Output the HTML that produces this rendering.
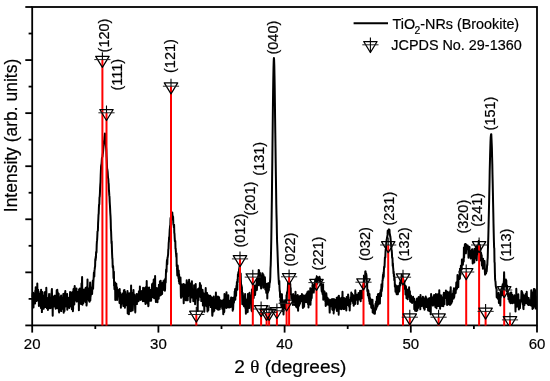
<!DOCTYPE html>
<html><head><meta charset="utf-8"><style>
html,body{margin:0;padding:0;background:#fff;width:550px;height:381px;overflow:hidden}
svg{display:block;font-family:"Liberation Sans",Arial,sans-serif;fill:#000}
text{stroke:#000;stroke-width:0.2px}
</style></head><body>
<svg width="550" height="381" viewBox="0 0 550 381"><polyline points="32.50,297.18 32.70,293.33 32.90,296.08 33.10,292.73 33.30,299.34 33.50,307.38 33.70,295.90 33.90,295.11 34.10,302.09 34.30,301.27 34.50,299.71 34.70,293.23 34.90,298.90 35.10,303.45 35.30,290.68 35.50,296.25 35.70,287.22 35.90,291.07 36.10,287.62 36.30,297.71 36.50,291.25 36.70,300.91 36.90,300.21 37.10,298.07 37.30,283.48 37.50,295.89 37.70,298.98 37.90,300.01 38.10,289.72 38.30,296.33 38.50,293.21 38.70,294.29 38.90,306.02 39.10,294.33 39.30,299.20 39.50,304.96 39.70,295.77 39.90,298.74 40.10,300.15 40.30,299.87 40.50,291.81 40.70,299.98 40.90,308.03 41.10,289.84 41.30,304.93 41.50,300.31 41.70,295.56 41.90,312.12 42.10,304.38 42.30,292.11 42.50,300.10 42.70,303.26 42.90,298.48 43.10,303.95 43.30,299.27 43.50,303.88 43.70,308.73 43.90,295.50 44.10,301.02 44.30,296.86 44.50,300.57 44.70,292.36 44.90,296.18 45.10,298.61 45.30,305.52 45.50,307.11 45.70,291.71 45.90,295.07 46.10,304.15 46.30,287.68 46.50,297.30 46.70,299.65 46.90,308.18 47.10,304.68 47.30,298.36 47.50,298.16 47.70,298.95 47.90,310.10 48.10,297.94 48.30,298.77 48.50,302.93 48.70,300.02 48.90,299.60 49.10,293.91 49.30,300.86 49.50,298.21 49.70,308.33 49.90,305.17 50.10,300.99 50.30,305.37 50.50,299.12 50.70,307.88 50.90,301.32 51.10,305.05 51.30,293.38 51.50,303.67 51.70,291.00 51.90,288.88 52.10,299.76 52.30,296.09 52.50,302.79 52.70,315.85 52.90,296.67 53.10,298.02 53.30,303.25 53.50,305.10 53.70,300.97 53.90,300.84 54.10,306.57 54.30,305.48 54.50,295.82 54.70,301.84 54.90,302.60 55.10,295.85 55.30,304.11 55.50,297.18 55.70,308.66 55.90,303.85 56.10,303.25 56.30,299.05 56.50,302.06 56.70,290.37 56.90,295.84 57.10,305.22 57.30,289.71 57.50,308.34 57.70,292.21 57.90,307.88 58.10,297.93 58.30,308.12 58.50,304.13 58.70,293.77 58.90,311.20 59.10,312.46 59.30,303.10 59.50,301.86 59.70,302.62 59.90,297.58 60.10,310.51 60.30,300.21 60.50,303.22 60.70,298.53 60.90,299.51 61.10,295.38 61.30,311.12 61.50,302.26 61.70,309.18 61.90,303.18 62.10,298.71 62.30,300.94 62.50,299.42 62.70,302.90 62.90,300.45 63.10,300.85 63.30,294.07 63.50,297.57 63.70,312.83 63.90,298.29 64.10,295.84 64.30,304.44 64.50,311.04 64.70,293.17 64.90,300.85 65.10,298.16 65.30,291.07 65.50,306.53 65.70,301.75 65.90,302.28 66.10,297.09 66.30,304.53 66.50,298.29 66.70,300.69 66.90,294.63 67.10,293.90 67.30,309.68 67.50,298.17 67.70,303.07 67.90,300.99 68.10,298.39 68.30,297.91 68.50,304.91 68.70,299.06 68.90,299.93 69.10,300.95 69.30,308.04 69.50,304.90 69.70,302.99 69.90,297.05 70.10,291.92 70.30,306.32 70.50,306.36 70.70,299.44 70.90,303.61 71.10,305.04 71.30,305.28 71.50,305.78 71.70,297.20 71.90,309.34 72.10,292.19 72.30,305.17 72.50,302.84 72.70,305.12 72.90,311.28 73.10,308.78 73.30,292.46 73.50,289.05 73.70,304.47 73.90,293.09 74.10,299.22 74.30,304.42 74.50,289.03 74.70,286.10 74.90,300.66 75.10,299.27 75.30,297.42 75.50,299.11 75.70,293.51 75.90,289.43 76.10,297.66 76.30,292.64 76.50,288.45 76.70,301.61 76.90,298.06 77.10,300.88 77.30,292.23 77.50,294.21 77.70,292.05 77.90,292.68 78.10,299.26 78.30,293.19 78.50,300.11 78.70,299.95 78.90,310.22 79.10,289.20 79.30,303.11 79.50,297.06 79.70,297.45 79.90,288.60 80.10,294.59 80.30,301.88 80.50,296.77 80.70,297.70 80.90,295.36 81.10,304.11 81.30,296.87 81.50,283.51 81.70,292.64 81.90,284.80 82.10,276.93 82.30,293.42 82.50,304.68 82.70,296.78 82.90,289.31 83.10,290.64 83.30,303.12 83.50,297.15 83.70,296.41 83.90,295.71 84.10,296.19 84.30,300.73 84.50,299.12 84.70,297.00 84.90,289.34 85.10,298.63 85.30,291.42 85.50,302.05 85.70,287.86 85.90,294.61 86.10,295.34 86.30,287.45 86.50,305.52 86.70,303.89 86.90,292.43 87.10,299.65 87.30,297.25 87.50,279.61 87.70,296.30 87.90,294.37 88.10,295.09 88.30,288.26 88.50,292.78 88.70,293.14 88.90,300.73 89.10,295.66 89.30,293.52 89.50,301.81 89.70,289.98 89.90,290.62 90.10,282.59 90.30,300.46 90.50,296.77 90.70,296.03 90.90,294.22 91.10,290.81 91.30,290.77 91.50,287.84 91.70,287.44 91.90,287.96 92.10,293.98 92.30,288.62 92.50,284.92 92.70,281.68 92.90,280.45 93.10,288.69 93.30,282.87 93.50,279.80 93.70,276.83 93.90,272.57 94.10,274.89 94.30,276.53 94.50,270.40 94.70,269.13 94.90,267.22 95.10,266.20 95.30,259.00 95.50,260.77 95.70,256.72 95.90,258.96 96.10,252.06 96.30,252.79 96.50,252.23 96.70,245.01 96.90,241.44 97.10,240.14 97.30,236.60 97.50,231.42 97.70,231.03 97.90,230.58 98.10,222.96 98.30,219.64 98.50,214.75 98.70,213.56 98.90,207.53 99.10,204.28 99.30,204.39 99.50,197.58 99.70,196.85 99.90,193.73 100.10,188.14 100.30,184.52 100.50,182.12 100.70,175.18 100.90,170.66 101.10,166.14 101.30,164.78 101.50,164.13 101.70,161.87 101.90,158.51 102.10,157.56 102.30,156.86 102.50,156.47 102.70,154.45 102.90,153.22 103.10,151.44 103.30,148.79 103.50,146.91 103.70,144.92 103.90,142.36 104.10,140.75 104.30,140.12 104.50,137.22 104.70,135.59 104.90,133.45 105.10,135.82 105.30,134.68 105.50,137.16 105.70,142.09 105.90,145.19 106.10,147.93 106.30,150.07 106.50,155.32 106.70,158.67 106.90,163.61 107.10,168.68 107.30,169.18 107.50,170.59 107.70,172.48 107.90,176.08 108.10,178.11 108.30,179.05 108.50,182.95 108.70,183.72 108.90,189.35 109.10,192.19 109.30,195.41 109.50,196.64 109.70,201.78 109.90,204.77 110.10,208.55 110.30,212.98 110.50,215.83 110.70,220.08 110.90,228.76 111.10,231.54 111.30,236.93 111.50,243.10 111.70,241.40 111.90,247.60 112.10,253.86 112.30,258.21 112.50,259.67 112.70,266.96 112.90,267.67 113.10,266.00 113.30,269.35 113.50,277.58 113.70,278.62 113.90,271.83 114.10,285.91 114.30,284.71 114.50,289.33 114.70,283.49 114.90,285.04 115.10,282.39 115.30,300.05 115.50,288.52 115.70,297.76 115.90,287.78 116.10,292.43 116.30,283.84 116.50,290.88 116.70,298.46 116.90,287.28 117.10,299.98 117.30,296.51 117.50,289.41 117.70,292.67 117.90,293.20 118.10,295.76 118.30,293.34 118.50,291.97 118.70,295.17 118.90,291.29 119.10,289.99 119.30,297.32 119.50,302.90 119.70,289.12 119.90,298.19 120.10,294.55 120.30,292.78 120.50,303.67 120.70,295.75 120.90,307.78 121.10,294.46 121.30,301.49 121.50,297.98 121.70,294.96 121.90,303.06 122.10,298.74 122.30,303.38 122.50,299.60 122.70,293.48 122.90,299.47 123.10,300.49 123.30,306.03 123.50,294.93 123.70,300.23 123.90,290.19 124.10,304.57 124.30,294.22 124.50,289.93 124.70,300.55 124.90,307.67 125.10,291.87 125.30,294.59 125.50,296.75 125.70,294.50 125.90,303.71 126.10,296.60 126.30,297.20 126.50,305.19 126.70,297.15 126.90,304.44 127.10,296.00 127.30,294.61 127.50,290.90 127.70,313.44 127.90,300.26 128.10,303.77 128.30,302.17 128.50,303.41 128.70,302.82 128.90,314.21 129.10,296.34 129.30,293.25 129.50,296.65 129.70,294.76 129.90,307.52 130.10,307.97 130.30,297.03 130.50,294.34 130.70,300.58 130.90,311.17 131.10,285.39 131.30,305.74 131.50,295.88 131.70,308.73 131.90,295.72 132.10,300.49 132.30,292.95 132.50,296.11 132.70,310.48 132.90,306.95 133.10,299.40 133.30,296.45 133.50,290.12 133.70,299.22 133.90,301.36 134.10,300.96 134.30,300.82 134.50,294.45 134.70,300.83 134.90,300.93 135.10,308.98 135.30,312.43 135.50,300.09 135.70,296.16 135.90,300.37 136.10,296.97 136.30,296.07 136.50,300.18 136.70,294.07 136.90,304.09 137.10,299.66 137.30,301.75 137.50,299.02 137.70,295.61 137.90,294.17 138.10,298.45 138.30,296.46 138.50,301.17 138.70,299.63 138.90,291.24 139.10,299.91 139.30,291.19 139.50,295.56 139.70,297.45 139.90,286.47 140.10,299.65 140.30,299.93 140.50,297.96 140.70,296.25 140.90,296.47 141.10,292.70 141.30,296.95 141.50,295.13 141.70,298.99 141.90,290.98 142.10,299.70 142.30,299.06 142.50,297.23 142.70,295.33 142.90,301.30 143.10,287.67 143.30,300.57 143.50,299.16 143.70,299.32 143.90,299.84 144.10,293.42 144.30,295.75 144.50,301.14 144.70,299.79 144.90,298.33 145.10,287.75 145.30,300.19 145.50,303.95 145.70,302.89 145.90,298.08 146.10,287.07 146.30,302.22 146.50,295.50 146.70,280.89 146.90,298.52 147.10,287.06 147.30,288.16 147.50,292.10 147.70,303.61 147.90,293.54 148.10,297.35 148.30,306.23 148.50,305.20 148.70,294.81 148.90,293.88 149.10,287.61 149.30,290.96 149.50,297.65 149.70,297.38 149.90,295.56 150.10,300.82 150.30,290.04 150.50,294.28 150.70,298.94 150.90,297.96 151.10,300.80 151.30,296.63 151.50,292.28 151.70,296.23 151.90,287.92 152.10,283.99 152.30,297.25 152.50,293.33 152.70,295.41 152.90,283.27 153.10,291.17 153.30,289.66 153.50,287.98 153.70,279.56 153.90,290.94 154.10,298.20 154.30,295.01 154.50,289.05 154.70,292.43 154.90,296.91 155.10,275.90 155.30,291.45 155.50,295.29 155.70,296.00 155.90,301.90 156.10,298.43 156.30,293.45 156.50,293.27 156.70,295.99 156.90,288.07 157.10,290.88 157.30,296.29 157.50,302.30 157.70,289.80 157.90,290.31 158.10,291.65 158.30,298.23 158.50,290.19 158.70,298.79 158.90,284.65 159.10,289.07 159.30,288.93 159.50,294.48 159.70,295.85 159.90,281.20 160.10,284.49 160.30,291.48 160.50,285.74 160.70,280.78 160.90,294.99 161.10,291.78 161.30,291.60 161.50,286.07 161.70,294.13 161.90,286.97 162.10,293.97 162.30,282.89 162.50,282.95 162.70,288.26 162.90,283.17 163.10,289.95 163.30,287.36 163.50,280.90 163.70,285.41 163.90,282.75 164.10,288.27 164.30,280.16 164.50,280.36 164.70,287.10 164.90,290.66 165.10,288.40 165.30,278.87 165.50,278.34 165.70,282.36 165.90,274.32 166.10,269.62 166.30,272.19 166.50,271.69 166.70,265.42 166.90,260.89 167.10,259.74 167.30,264.33 167.50,257.76 167.70,257.31 167.90,255.90 168.10,254.48 168.30,249.37 168.50,248.86 168.70,242.77 168.90,241.36 169.10,237.14 169.30,239.20 169.50,233.94 169.70,229.80 169.90,228.01 170.10,225.77 170.30,225.16 170.50,218.62 170.70,217.66 170.90,217.06 171.10,220.65 171.30,216.54 171.50,213.69 171.70,214.43 171.90,216.40 172.10,212.47 172.30,212.59 172.50,216.01 172.70,215.78 172.90,217.41 173.10,216.89 173.30,223.15 173.50,224.87 173.70,225.00 173.90,227.66 174.10,224.78 174.30,232.77 174.50,233.74 174.70,237.83 174.90,241.18 175.10,241.59 175.30,241.03 175.50,248.74 175.70,248.54 175.90,252.16 176.10,253.86 176.30,256.99 176.50,253.37 176.70,266.32 176.90,265.48 177.10,270.40 177.30,275.44 177.50,270.48 177.70,265.45 177.90,270.28 178.10,270.43 178.30,274.52 178.50,278.15 178.70,270.47 178.90,281.58 179.10,274.34 179.30,283.37 179.50,282.34 179.70,282.13 179.90,283.97 180.10,282.31 180.30,282.49 180.50,277.56 180.70,286.39 180.90,296.53 181.10,297.74 181.30,294.72 181.50,291.82 181.70,284.73 181.90,296.44 182.10,288.57 182.30,288.73 182.50,287.71 182.70,290.01 182.90,287.26 183.10,289.38 183.30,283.90 183.50,288.03 183.70,303.18 183.90,290.00 184.10,289.15 184.30,293.66 184.50,294.78 184.70,284.42 184.90,289.72 185.10,296.31 185.30,292.65 185.50,291.88 185.70,300.28 185.90,287.37 186.10,291.88 186.30,288.42 186.50,300.26 186.70,280.15 186.90,287.72 187.10,288.61 187.30,295.69 187.50,295.41 187.70,300.14 187.90,282.63 188.10,296.44 188.30,290.31 188.50,288.14 188.70,295.36 188.90,286.72 189.10,279.86 189.30,290.08 189.50,283.38 189.70,288.49 189.90,294.64 190.10,294.34 190.30,302.07 190.50,291.44 190.70,283.51 190.90,288.25 191.10,287.34 191.30,285.62 191.50,295.65 191.70,289.22 191.90,281.25 192.10,297.47 192.30,292.66 192.50,295.56 192.70,294.12 192.90,297.38 193.10,293.85 193.30,301.19 193.50,296.34 193.70,296.22 193.90,296.40 194.10,285.13 194.30,293.05 194.50,292.54 194.70,295.45 194.90,285.98 195.10,304.27 195.30,295.02 195.50,287.07 195.70,284.10 195.90,292.87 196.10,294.11 196.30,290.34 196.50,295.35 196.70,290.93 196.90,298.29 197.10,290.55 197.30,294.81 197.50,301.10 197.70,310.91 197.90,289.07 198.10,292.45 198.30,290.22 198.50,300.23 198.70,288.45 198.90,292.58 199.10,295.43 199.30,289.67 199.50,289.86 199.70,292.88 199.90,282.96 200.10,287.05 200.30,293.45 200.50,296.95 200.70,294.97 200.90,285.37 201.10,293.41 201.30,301.12 201.50,299.70 201.70,295.93 201.90,291.12 202.10,300.32 202.30,293.11 202.50,289.64 202.70,291.91 202.90,305.39 203.10,298.13 203.30,303.76 203.50,294.09 203.70,302.54 203.90,293.50 204.10,296.18 204.30,311.77 204.50,301.72 204.70,294.35 204.90,296.85 205.10,299.36 205.30,304.66 205.50,294.97 205.70,287.92 205.90,296.55 206.10,298.42 206.30,299.14 206.50,306.23 206.70,300.67 206.90,303.67 207.10,292.94 207.30,304.31 207.50,311.43 207.70,304.10 207.90,301.34 208.10,300.95 208.30,310.29 208.50,295.24 208.70,299.98 208.90,303.34 209.10,305.09 209.30,298.70 209.50,303.00 209.70,299.94 209.90,302.31 210.10,301.10 210.30,295.74 210.50,302.05 210.70,307.12 210.90,297.26 211.10,301.38 211.30,306.46 211.50,297.26 211.70,304.19 211.90,297.69 212.10,309.55 212.30,315.83 212.50,314.25 212.70,302.31 212.90,307.40 213.10,304.12 213.30,304.01 213.50,311.62 213.70,296.55 213.90,309.00 214.10,303.22 214.30,310.82 214.50,304.45 214.70,300.00 214.90,304.91 215.10,307.28 215.30,303.67 215.50,305.99 215.70,300.82 215.90,292.60 216.10,308.06 216.30,307.03 216.50,304.23 216.70,303.83 216.90,308.70 217.10,301.19 217.30,299.95 217.50,302.54 217.70,309.40 217.90,296.60 218.10,309.38 218.30,300.33 218.50,298.06 218.70,309.66 218.90,303.00 219.10,297.13 219.30,301.73 219.50,307.99 219.70,309.24 219.90,301.41 220.10,305.43 220.30,306.91 220.50,300.36 220.70,305.17 220.90,303.31 221.10,300.88 221.30,301.09 221.50,303.78 221.70,303.60 221.90,300.73 222.10,301.40 222.30,308.80 222.50,304.47 222.70,307.69 222.90,309.21 223.10,306.26 223.30,314.35 223.50,299.46 223.70,307.30 223.90,301.89 224.10,312.33 224.30,311.58 224.50,294.01 224.70,298.74 224.90,306.58 225.10,307.16 225.30,306.86 225.50,302.94 225.70,305.42 225.90,306.33 226.10,302.78 226.30,308.03 226.50,292.23 226.70,306.06 226.90,298.02 227.10,307.52 227.30,301.79 227.50,298.58 227.70,304.58 227.90,298.38 228.10,298.33 228.30,295.16 228.50,302.47 228.70,304.92 228.90,307.38 229.10,301.77 229.30,307.39 229.50,302.43 229.70,301.84 229.90,304.96 230.10,307.21 230.30,300.50 230.50,300.90 230.70,301.24 230.90,302.33 231.10,297.61 231.30,306.68 231.50,299.85 231.70,303.86 231.90,297.70 232.10,303.22 232.30,303.29 232.50,299.39 232.70,310.76 232.90,302.92 233.10,309.38 233.30,305.43 233.50,297.76 233.70,298.92 233.90,302.54 234.10,300.62 234.30,300.34 234.50,298.55 234.70,291.40 234.90,298.14 235.10,288.94 235.30,299.72 235.50,294.36 235.70,293.67 235.90,294.80 236.10,295.70 236.30,288.00 236.50,285.66 236.70,286.77 236.90,281.89 237.10,283.77 237.30,289.78 237.50,279.58 237.70,282.31 237.90,274.51 238.10,276.80 238.30,273.15 238.50,271.94 238.70,271.85 238.90,273.39 239.10,269.05 239.30,268.67 239.50,266.48 239.70,270.89 239.90,270.25 240.10,274.52 240.30,274.37 240.50,281.18 240.70,273.60 240.90,280.47 241.10,286.25 241.30,284.82 241.50,285.50 241.70,289.16 241.90,287.04 242.10,293.98 242.30,304.27 242.50,300.79 242.70,292.96 242.90,294.77 243.10,297.56 243.30,304.41 243.50,297.22 243.70,298.37 243.90,305.90 244.10,306.32 244.30,301.15 244.50,298.12 244.70,296.46 244.90,300.65 245.10,293.88 245.30,307.87 245.50,301.76 245.70,307.14 245.90,313.79 246.10,310.80 246.30,300.25 246.50,309.82 246.70,311.36 246.90,302.73 247.10,301.74 247.30,305.38 247.50,298.20 247.70,312.13 247.90,293.93 248.10,299.64 248.30,303.19 248.50,303.07 248.70,304.55 248.90,304.70 249.10,302.14 249.30,307.92 249.50,292.71 249.70,302.00 249.90,298.40 250.10,301.80 250.30,301.80 250.50,295.95 250.70,296.71 250.90,303.40 251.10,300.82 251.30,295.15 251.50,309.43 251.70,310.80 251.90,289.61 252.10,299.13 252.30,311.51 252.50,301.22 252.70,297.52 252.90,294.51 253.10,292.05 253.30,293.55 253.50,291.08 253.70,298.07 253.90,290.95 254.10,290.18 254.30,285.42 254.50,291.21 254.70,286.05 254.90,289.28 255.10,295.06 255.30,290.86 255.50,290.89 255.70,289.46 255.90,287.32 256.10,285.76 256.30,284.26 256.50,288.71 256.70,279.41 256.90,290.09 257.10,283.45 257.30,279.33 257.50,279.99 257.70,278.66 257.90,281.88 258.10,277.59 258.30,285.24 258.50,276.57 258.70,269.89 258.90,276.19 259.10,270.55 259.30,278.66 259.50,283.10 259.70,281.24 259.90,272.83 260.10,275.18 260.30,285.76 260.50,279.63 260.70,278.29 260.90,282.66 261.10,288.44 261.30,283.54 261.50,278.62 261.70,279.39 261.90,280.33 262.10,275.10 262.30,273.18 262.50,277.70 262.70,273.58 262.90,277.32 263.10,278.17 263.30,287.84 263.50,275.02 263.70,278.70 263.90,279.28 264.10,282.78 264.30,286.52 264.50,280.67 264.70,280.16 264.90,277.26 265.10,281.63 265.30,289.59 265.50,288.14 265.70,283.94 265.90,287.69 266.10,290.18 266.30,292.83 266.50,288.34 266.70,290.24 266.90,283.86 267.10,287.03 267.30,298.46 267.50,283.46 267.70,290.74 267.90,292.74 268.10,290.45 268.30,288.68 268.50,290.96 268.70,290.66 268.90,289.72 269.10,282.85 269.30,287.45 269.50,283.72 269.70,282.77 269.90,282.53 270.10,280.38 270.30,276.84 270.50,268.43 270.70,265.33 270.90,258.14 271.10,248.95 271.30,238.70 271.50,224.39 271.70,210.81 271.90,196.84 272.10,178.30 272.30,162.41 272.50,143.83 272.70,125.91 272.90,107.53 273.10,91.96 273.30,78.54 273.50,68.18 273.70,61.20 273.90,57.95 274.10,59.69 274.30,65.30 274.50,75.52 274.70,87.44 274.90,102.19 275.10,118.33 275.30,132.91 275.50,147.42 275.70,163.00 275.90,176.65 276.10,190.02 276.30,204.76 276.50,214.42 276.70,221.78 276.90,233.28 277.10,241.83 277.30,245.92 277.50,251.18 277.70,256.96 277.90,262.85 278.10,267.85 278.30,272.98 278.50,276.69 278.70,279.96 278.90,283.51 279.10,284.53 279.30,280.88 279.50,287.45 279.70,291.11 279.90,290.88 280.10,297.13 280.30,294.39 280.50,293.79 280.70,303.82 280.90,302.17 281.10,301.55 281.30,305.24 281.50,306.64 281.70,304.58 281.90,294.15 282.10,301.83 282.30,303.25 282.50,301.65 282.70,306.86 282.90,311.27 283.10,304.75 283.30,302.11 283.50,314.59 283.70,304.64 283.90,301.42 284.10,307.00 284.30,307.48 284.50,302.84 284.70,308.20 284.90,302.96 285.10,300.90 285.30,304.39 285.50,305.83 285.70,300.14 285.90,302.63 286.10,300.07 286.30,308.04 286.50,295.25 286.70,300.05 286.90,294.05 287.10,292.13 287.30,292.72 287.50,291.36 287.70,290.54 287.90,286.48 288.10,282.93 288.30,282.23 288.50,284.03 288.70,283.76 288.90,285.47 289.10,283.37 289.30,285.24 289.50,286.97 289.70,284.73 289.90,281.87 290.10,283.69 290.30,284.20 290.50,293.12 290.70,288.08 290.90,294.91 291.10,294.39 291.30,298.82 291.50,297.89 291.70,295.55 291.90,296.09 292.10,297.73 292.30,298.69 292.50,296.93 292.70,299.05 292.90,305.01 293.10,294.05 293.30,301.05 293.50,297.22 293.70,301.21 293.90,303.66 294.10,300.60 294.30,303.64 294.50,295.28 294.70,304.96 294.90,298.88 295.10,303.30 295.30,301.74 295.50,291.78 295.70,298.37 295.90,301.89 296.10,306.71 296.30,302.13 296.50,302.01 296.70,295.96 296.90,306.25 297.10,307.60 297.30,301.13 297.50,300.22 297.70,295.11 297.90,304.18 298.10,310.78 298.30,303.54 298.50,305.51 298.70,302.86 298.90,297.27 299.10,305.70 299.30,296.31 299.50,300.01 299.70,301.76 299.90,303.93 300.10,302.22 300.30,302.11 300.50,297.93 300.70,296.01 300.90,300.93 301.10,298.11 301.30,295.93 301.50,296.08 301.70,298.90 301.90,293.94 302.10,295.77 302.30,294.71 302.50,301.31 302.70,302.12 302.90,307.92 303.10,295.17 303.30,298.13 303.50,303.89 303.70,299.77 303.90,299.35 304.10,306.70 304.30,299.26 304.50,296.27 304.70,295.66 304.90,301.59 305.10,301.44 305.30,295.36 305.50,296.70 305.70,302.10 305.90,302.19 306.10,297.76 306.30,302.20 306.50,301.94 306.70,293.50 306.90,298.62 307.10,301.08 307.30,297.49 307.50,291.91 307.70,298.26 307.90,301.71 308.10,304.39 308.30,291.25 308.50,307.50 308.70,294.56 308.90,301.39 309.10,302.07 309.30,300.95 309.50,297.92 309.70,293.34 309.90,298.87 310.10,294.21 310.30,288.14 310.50,304.72 310.70,297.63 310.90,300.63 311.10,291.82 311.30,298.57 311.50,298.42 311.70,297.77 311.90,292.63 312.10,288.74 312.30,291.17 312.50,285.01 312.70,285.93 312.90,290.29 313.10,286.82 313.30,288.44 313.50,288.00 313.70,292.61 313.90,290.33 314.10,286.34 314.30,288.80 314.50,283.34 314.70,283.81 314.90,286.16 315.10,280.55 315.30,282.22 315.50,279.31 315.70,282.04 315.90,284.90 316.10,279.15 316.30,280.86 316.50,278.04 316.70,277.16 316.90,276.69 317.10,282.15 317.30,283.86 317.50,279.74 317.70,277.14 317.90,280.09 318.10,277.95 318.30,280.43 318.50,279.51 318.70,279.70 318.90,280.67 319.10,278.47 319.30,279.21 319.50,276.77 319.70,279.99 319.90,278.33 320.10,281.68 320.30,280.42 320.50,283.40 320.70,284.83 320.90,281.13 321.10,283.17 321.30,283.50 321.50,288.23 321.70,291.29 321.90,289.91 322.10,287.60 322.30,292.91 322.50,285.90 322.70,294.45 322.90,289.40 323.10,284.26 323.30,299.71 323.50,297.44 323.70,290.72 323.90,294.70 324.10,294.16 324.30,295.62 324.50,291.42 324.70,294.29 324.90,298.26 325.10,297.98 325.30,301.48 325.50,298.40 325.70,306.04 325.90,296.62 326.10,300.13 326.30,293.34 326.50,295.80 326.70,304.67 326.90,297.37 327.10,302.59 327.30,300.84 327.50,297.71 327.70,300.31 327.90,299.94 328.10,300.22 328.30,304.73 328.50,304.56 328.70,300.40 328.90,299.38 329.10,303.73 329.30,302.50 329.50,306.65 329.70,312.61 329.90,306.24 330.10,303.16 330.30,302.70 330.50,300.27 330.70,300.11 330.90,299.78 331.10,302.00 331.30,301.90 331.50,306.17 331.70,302.02 331.90,302.76 332.10,299.04 332.30,309.49 332.50,305.34 332.70,310.03 332.90,306.40 333.10,308.93 333.30,302.56 333.50,306.09 333.70,313.38 333.90,298.95 334.10,307.75 334.30,309.66 334.50,304.96 334.70,306.21 334.90,308.09 335.10,300.90 335.30,304.90 335.50,300.04 335.70,300.75 335.90,300.95 336.10,302.74 336.30,303.83 336.50,305.00 336.70,297.76 336.90,310.89 337.10,307.69 337.30,306.01 337.50,301.76 337.70,302.79 337.90,305.27 338.10,304.72 338.30,296.44 338.50,306.00 338.70,314.64 338.90,295.65 339.10,306.97 339.30,304.45 339.50,302.50 339.70,308.46 339.90,298.12 340.10,303.55 340.30,308.82 340.50,302.04 340.70,301.11 340.90,303.26 341.10,300.94 341.30,309.13 341.50,298.97 341.70,306.32 341.90,297.47 342.10,305.44 342.30,302.19 342.50,291.78 342.70,302.55 342.90,298.06 343.10,300.65 343.30,309.01 343.50,297.74 343.70,297.94 343.90,308.57 344.10,302.90 344.30,308.98 344.50,303.74 344.70,298.53 344.90,302.01 345.10,307.57 345.30,306.29 345.50,302.20 345.70,302.37 345.90,301.63 346.10,299.59 346.30,310.39 346.50,302.04 346.70,297.09 346.90,299.88 347.10,305.03 347.30,304.63 347.50,301.23 347.70,298.90 347.90,301.85 348.10,294.48 348.30,296.05 348.50,305.08 348.70,299.52 348.90,303.17 349.10,306.76 349.30,304.27 349.50,301.52 349.70,310.56 349.90,304.22 350.10,299.77 350.30,304.41 350.50,302.97 350.70,297.48 350.90,301.43 351.10,300.36 351.30,292.57 351.50,300.23 351.70,299.70 351.90,298.99 352.10,293.75 352.30,299.23 352.50,300.53 352.70,301.07 352.90,295.71 353.10,303.20 353.30,295.24 353.50,299.40 353.70,305.84 353.90,297.25 354.10,297.94 354.30,304.57 354.50,298.30 354.70,298.57 354.90,300.64 355.10,304.01 355.30,290.25 355.50,295.89 355.70,295.03 355.90,294.58 356.10,295.40 356.30,295.33 356.50,299.86 356.70,294.83 356.90,298.77 357.10,299.71 357.30,294.96 357.50,298.22 357.70,304.00 357.90,298.54 358.10,294.54 358.30,296.55 358.50,293.01 358.70,297.36 358.90,299.36 359.10,292.68 359.30,294.73 359.50,299.42 359.70,293.12 359.90,295.38 360.10,290.64 360.30,291.12 360.50,291.96 360.70,301.16 360.90,291.79 361.10,291.07 361.30,290.67 361.50,291.72 361.70,294.18 361.90,292.24 362.10,298.20 362.30,291.87 362.50,295.64 362.70,291.49 362.90,292.08 363.10,285.11 363.30,288.47 363.50,287.73 363.70,286.11 363.90,279.52 364.10,286.32 364.30,281.30 364.50,279.43 364.70,278.10 364.90,276.45 365.10,276.33 365.30,271.41 365.50,271.37 365.70,273.69 365.90,273.69 366.10,273.47 366.30,274.45 366.50,275.69 366.70,279.59 366.90,284.92 367.10,281.78 367.30,290.83 367.50,291.39 367.70,289.84 367.90,295.35 368.10,290.17 368.30,290.64 368.50,293.18 368.70,297.08 368.90,298.26 369.10,298.38 369.30,301.20 369.50,293.95 369.70,303.78 369.90,297.45 370.10,300.62 370.30,301.96 370.50,299.66 370.70,299.26 370.90,300.98 371.10,305.03 371.30,307.64 371.50,307.92 371.70,302.42 371.90,303.51 372.10,303.33 372.30,308.83 372.50,299.69 372.70,312.44 372.90,306.15 373.10,305.28 373.30,309.84 373.50,312.74 373.70,310.34 373.90,313.30 374.10,309.77 374.30,313.73 374.50,313.54 374.70,308.13 374.90,313.75 375.10,308.60 375.30,308.01 375.50,303.87 375.70,305.97 375.90,309.70 376.10,301.46 376.30,308.52 376.50,307.02 376.70,306.38 376.90,296.74 377.10,304.17 377.30,306.51 377.50,300.89 377.70,303.55 377.90,294.15 378.10,304.64 378.30,299.34 378.50,304.20 378.70,294.11 378.90,302.30 379.10,298.44 379.30,301.27 379.50,294.73 379.70,294.99 379.90,303.43 380.10,292.77 380.30,292.48 380.50,293.06 380.70,289.99 380.90,295.68 381.10,296.19 381.30,288.19 381.50,284.32 381.70,291.06 381.90,289.57 382.10,287.44 382.30,286.82 382.50,280.37 382.70,280.53 382.90,276.14 383.10,274.45 383.30,277.95 383.50,272.59 383.70,276.71 383.90,270.26 384.10,266.86 384.30,267.47 384.50,267.11 384.70,262.54 384.90,257.43 385.10,257.89 385.30,257.25 385.50,252.04 385.70,249.42 385.90,249.92 386.10,246.47 386.30,242.63 386.50,241.66 386.70,239.25 386.90,238.87 387.10,236.96 387.30,236.80 387.50,234.88 387.70,230.86 387.90,232.39 388.10,232.27 388.30,231.22 388.50,231.66 388.70,229.69 388.90,229.40 389.10,232.18 389.30,230.37 389.50,229.87 389.70,234.99 389.90,234.04 390.10,236.03 390.30,236.17 390.50,237.98 390.70,240.03 390.90,243.07 391.10,246.14 391.30,244.30 391.50,250.97 391.70,250.15 391.90,252.46 392.10,257.45 392.30,258.37 392.50,257.97 392.70,266.06 392.90,263.23 393.10,267.32 393.30,269.21 393.50,273.57 393.70,271.62 393.90,276.50 394.10,274.41 394.30,280.21 394.50,277.43 394.70,279.81 394.90,286.73 395.10,284.17 395.30,284.87 395.50,291.66 395.70,287.76 395.90,285.49 396.10,290.70 396.30,286.03 396.50,293.42 396.70,294.32 396.90,289.55 397.10,289.80 397.30,292.58 397.50,292.32 397.70,289.39 397.90,294.19 398.10,286.06 398.30,290.83 398.50,290.62 398.70,290.61 398.90,291.82 399.10,286.65 399.30,291.22 399.50,288.15 399.70,285.91 399.90,282.98 400.10,282.47 400.30,285.45 400.50,280.90 400.70,282.36 400.90,283.66 401.10,282.45 401.30,282.63 401.50,277.39 401.70,274.84 401.90,279.02 402.10,277.02 402.30,278.65 402.50,276.19 402.70,279.09 402.90,278.75 403.10,279.08 403.30,279.36 403.50,280.01 403.70,280.59 403.90,281.59 404.10,284.55 404.30,281.85 404.50,288.68 404.70,284.92 404.90,288.83 405.10,286.84 405.30,287.25 405.50,294.51 405.70,288.54 405.90,286.33 406.10,288.53 406.30,290.21 406.50,298.18 406.70,292.65 406.90,295.26 407.10,289.55 407.30,294.06 407.50,295.32 407.70,299.15 407.90,291.41 408.10,295.78 408.30,295.02 408.50,290.93 408.70,294.39 408.90,293.80 409.10,287.21 409.30,297.10 409.50,297.15 409.70,294.12 409.90,291.32 410.10,301.15 410.30,297.30 410.50,300.18 410.70,301.86 410.90,295.41 411.10,300.40 411.30,296.95 411.50,297.88 411.70,298.08 411.90,298.67 412.10,303.05 412.30,299.67 412.50,298.90 412.70,298.69 412.90,301.27 413.10,296.79 413.30,298.50 413.50,300.44 413.70,298.64 413.90,300.56 414.10,298.80 414.30,309.29 414.50,306.80 414.70,303.45 414.90,301.58 415.10,310.72 415.30,303.33 415.50,301.77 415.70,303.45 415.90,303.55 416.10,308.13 416.30,302.37 416.50,311.11 416.70,298.95 416.90,305.47 417.10,298.54 417.30,310.20 417.50,301.38 417.70,302.54 417.90,306.64 418.10,308.04 418.30,298.26 418.50,301.45 418.70,297.12 418.90,303.50 419.10,302.53 419.30,301.51 419.50,300.13 419.70,301.39 419.90,299.90 420.10,305.22 420.30,309.34 420.50,294.99 420.70,302.57 420.90,301.31 421.10,305.12 421.30,299.11 421.50,302.47 421.70,298.75 421.90,306.01 422.10,303.52 422.30,302.44 422.50,304.67 422.70,302.10 422.90,296.64 423.10,305.63 423.30,304.35 423.50,302.51 423.70,307.27 423.90,308.26 424.10,298.60 424.30,299.90 424.50,309.65 424.70,309.12 424.90,300.09 425.10,298.25 425.30,300.52 425.50,301.11 425.70,296.57 425.90,303.34 426.10,297.84 426.30,298.14 426.50,307.05 426.70,300.35 426.90,302.92 427.10,305.86 427.30,306.64 427.50,301.82 427.70,303.42 427.90,299.77 428.10,310.56 428.30,305.96 428.50,298.61 428.70,303.26 428.90,306.24 429.10,305.26 429.30,310.92 429.50,309.01 429.70,300.99 429.90,302.88 430.10,297.84 430.30,304.20 430.50,303.72 430.70,314.37 430.90,303.37 431.10,294.11 431.30,300.00 431.50,303.23 431.70,297.42 431.90,298.99 432.10,301.02 432.30,303.93 432.50,301.73 432.70,298.63 432.90,305.60 433.10,299.96 433.30,300.06 433.50,296.30 433.70,298.72 433.90,304.69 434.10,295.10 434.30,301.52 434.50,304.76 434.70,300.10 434.90,302.62 435.10,296.86 435.30,306.97 435.50,306.03 435.70,302.33 435.90,293.91 436.10,296.82 436.30,305.23 436.50,308.24 436.70,302.24 436.90,306.15 437.10,298.31 437.30,299.99 437.50,300.72 437.70,302.42 437.90,294.17 438.10,304.44 438.30,305.97 438.50,295.55 438.70,294.62 438.90,301.69 439.10,297.41 439.30,290.15 439.50,303.39 439.70,300.58 439.90,297.87 440.10,308.63 440.30,300.30 440.50,296.49 440.70,299.99 440.90,295.15 441.10,296.24 441.30,300.96 441.50,296.96 441.70,297.32 441.90,306.09 442.10,302.64 442.30,302.33 442.50,301.11 442.70,300.85 442.90,304.82 443.10,298.59 443.30,306.33 443.50,294.56 443.70,297.38 443.90,292.63 444.10,296.86 444.30,300.37 444.50,304.17 444.70,295.30 444.90,298.00 445.10,296.42 445.30,294.79 445.50,292.87 445.70,298.00 445.90,290.51 446.10,298.09 446.30,297.67 446.50,294.80 446.70,293.29 446.90,291.69 447.10,305.08 447.30,291.75 447.50,303.66 447.70,299.65 447.90,295.61 448.10,292.29 448.30,301.28 448.50,304.03 448.70,293.02 448.90,295.56 449.10,301.04 449.30,298.03 449.50,304.77 449.70,294.18 449.90,298.65 450.10,291.26 450.30,304.82 450.50,293.23 450.70,287.14 450.90,295.51 451.10,295.36 451.30,303.57 451.50,294.35 451.70,295.55 451.90,297.86 452.10,301.70 452.30,294.96 452.50,299.19 452.70,296.94 452.90,293.54 453.10,294.81 453.30,294.39 453.50,290.49 453.70,298.45 453.90,288.19 454.10,297.61 454.30,296.42 454.50,292.11 454.70,289.22 454.90,290.78 455.10,292.85 455.30,293.31 455.50,291.17 455.70,293.04 455.90,287.14 456.10,289.20 456.30,282.61 456.50,289.55 456.70,286.85 456.90,284.32 457.10,288.40 457.30,286.14 457.50,274.94 457.70,282.54 457.90,277.45 458.10,283.78 458.30,287.11 458.50,277.52 458.70,278.44 458.90,276.61 459.10,277.64 459.30,277.76 459.50,279.03 459.70,270.88 459.90,278.44 460.10,269.34 460.30,272.55 460.50,274.72 460.70,272.36 460.90,265.75 461.10,265.65 461.30,265.55 461.50,266.06 461.70,269.40 461.90,259.60 462.10,264.96 462.30,264.47 462.50,263.25 462.70,261.87 462.90,264.74 463.10,259.86 463.30,260.15 463.50,258.05 463.70,261.40 463.90,247.47 464.10,257.66 464.30,251.51 464.50,250.69 464.70,247.71 464.90,244.14 465.10,248.58 465.30,247.15 465.50,250.69 465.70,244.02 465.90,253.33 466.10,249.48 466.30,247.80 466.50,246.38 466.70,246.27 466.90,245.34 467.10,247.50 467.30,249.58 467.50,249.29 467.70,245.50 467.90,249.65 468.10,247.88 468.30,251.74 468.50,257.82 468.70,253.94 468.90,251.03 469.10,246.80 469.30,247.73 469.50,246.99 469.70,255.46 469.90,250.47 470.10,253.46 470.30,251.20 470.50,253.76 470.70,258.39 470.90,251.22 471.10,252.48 471.30,250.93 471.50,256.85 471.70,250.30 471.90,250.01 472.10,249.21 472.30,249.24 472.50,255.95 472.70,263.45 472.90,251.07 473.10,258.08 473.30,255.76 473.50,251.13 473.70,254.20 473.90,254.48 474.10,252.97 474.30,262.40 474.50,248.76 474.70,256.94 474.90,256.73 475.10,253.39 475.30,255.84 475.50,258.21 475.70,255.36 475.90,255.94 476.10,256.49 476.30,246.53 476.50,258.16 476.70,260.28 476.90,255.19 477.10,254.63 477.30,245.86 477.50,249.50 477.70,246.59 477.90,246.74 478.10,251.24 478.30,245.07 478.50,246.87 478.70,240.96 478.90,246.45 479.10,247.29 479.30,244.97 479.50,245.30 479.70,254.27 479.90,244.93 480.10,246.26 480.30,248.00 480.50,255.84 480.70,260.15 480.90,255.26 481.10,252.73 481.30,254.89 481.50,261.46 481.70,255.18 481.90,265.00 482.10,265.75 482.30,261.31 482.50,264.16 482.70,265.08 482.90,268.69 483.10,258.78 483.30,267.72 483.50,262.15 483.70,261.12 483.90,264.67 484.10,264.07 484.30,262.13 484.50,260.96 484.70,263.97 484.90,272.26 485.10,274.61 485.30,271.62 485.50,273.98 485.70,270.08 485.90,271.90 486.10,273.18 486.30,269.74 486.50,269.56 486.70,271.34 486.90,268.78 487.10,264.87 487.30,265.23 487.50,260.07 487.70,258.00 487.90,250.55 488.10,243.74 488.30,237.28 488.50,228.92 488.70,219.70 488.90,210.93 489.10,202.67 489.30,192.72 489.50,183.49 489.70,171.20 489.90,163.31 490.10,155.01 490.30,148.20 490.50,141.75 490.70,137.28 490.90,135.49 491.10,134.18 491.30,134.23 491.50,138.89 491.70,143.25 491.90,148.19 492.10,156.72 492.30,163.91 492.50,174.79 492.70,183.35 492.90,192.76 493.10,203.23 493.30,212.60 493.50,223.31 493.70,232.36 493.90,240.61 494.10,247.36 494.30,248.46 494.50,261.87 494.70,262.98 494.90,272.70 495.10,279.28 495.30,280.64 495.50,281.71 495.70,284.82 495.90,287.03 496.10,287.28 496.30,288.48 496.50,288.29 496.70,297.14 496.90,293.30 497.10,297.72 497.30,293.43 497.50,295.10 497.70,294.42 497.90,297.26 498.10,298.96 498.30,296.73 498.50,293.09 498.70,292.75 498.90,302.97 499.10,294.97 499.30,294.96 499.50,302.28 499.70,300.69 499.90,298.34 500.10,294.40 500.30,305.59 500.50,297.36 500.70,297.75 500.90,294.56 501.10,289.28 501.30,289.25 501.50,295.56 501.70,294.90 501.90,291.86 502.10,287.73 502.30,286.04 502.50,289.15 502.70,284.37 502.90,291.29 503.10,290.98 503.30,295.08 503.50,287.79 503.70,282.27 503.90,280.50 504.10,272.23 504.30,279.72 504.50,280.32 504.70,283.10 504.90,281.92 505.10,281.91 505.30,281.16 505.50,282.93 505.70,285.89 505.90,279.56 506.10,282.29 506.30,280.54 506.50,290.89 506.70,291.19 506.90,290.71 507.10,285.40 507.30,291.15 507.50,290.80 507.70,292.93 507.90,292.87 508.10,296.41 508.30,293.67 508.50,299.28 508.70,297.48 508.90,295.86 509.10,297.06 509.30,296.09 509.50,301.73 509.70,297.43 509.90,300.12 510.10,297.37 510.30,292.77 510.50,303.31 510.70,294.84 510.90,302.55 511.10,301.50 511.30,292.41 511.50,295.60 511.70,297.55 511.90,296.24 512.10,294.67 512.30,303.25 512.50,298.92 512.70,301.74 512.90,298.13 513.10,301.44 513.30,296.75 513.50,300.01 513.70,302.75 513.90,300.37 514.10,298.14 514.30,295.34 514.50,300.98 514.70,301.79 514.90,299.10 515.10,296.82 515.30,302.73 515.50,311.46 515.70,298.96 515.90,301.85 516.10,302.05 516.30,288.80 516.50,300.93 516.70,297.20 516.90,306.64 517.10,299.26 517.30,296.91 517.50,299.44 517.70,301.19 517.90,297.91 518.10,300.21 518.30,294.34 518.50,299.45 518.70,303.98 518.90,309.39 519.10,303.69 519.30,301.73 519.50,305.87 519.70,305.13 519.90,308.06 520.10,305.43 520.30,300.00 520.50,301.71 520.70,301.36 520.90,301.92 521.10,301.47 521.30,297.02 521.50,291.03 521.70,297.53 521.90,291.39 522.10,300.89 522.30,300.61 522.50,292.99 522.70,303.72 522.90,304.54 523.10,301.05 523.30,308.19 523.50,309.12 523.70,295.14 523.90,305.34 524.10,302.63 524.30,302.54 524.50,304.89 524.70,297.37 524.90,297.95 525.10,296.87 525.30,297.17 525.50,300.12 525.70,293.93 525.90,295.74 526.10,303.10 526.30,300.11 526.50,302.14 526.70,291.77 526.90,296.77 527.10,297.77 527.30,300.42 527.50,297.57 527.70,304.45 527.90,299.90 528.10,300.21 528.30,300.16 528.50,303.29 528.70,297.88 528.90,305.11 529.10,302.06 529.30,300.63 529.50,300.09 529.70,302.24 529.90,304.46 530.10,304.11 530.30,301.48 530.50,303.72 530.70,300.23 530.90,305.37 531.10,299.50 531.30,290.13 531.50,305.66 531.70,300.01 531.90,294.15 532.10,298.55 532.30,295.39 532.50,308.97 532.70,301.62 532.90,292.16 533.10,301.77 533.30,297.43 533.50,307.96 533.70,294.37 533.90,288.89 534.10,299.41 534.30,297.49 534.50,297.14 534.70,289.23 534.90,300.92 535.10,306.58 535.30,290.19 535.50,304.21 535.70,296.23 535.90,309.52" fill="none" stroke="#000" stroke-width="2.0" stroke-linejoin="round"/><rect x="32.2" y="7" width="504.8" height="318.4" fill="none" stroke="#000" stroke-width="1.8"/><line x1="102.40" y1="59.60" x2="102.40" y2="325.6" stroke="#ff0000" stroke-width="2"/><line x1="106.50" y1="112.80" x2="106.50" y2="325.6" stroke="#ff0000" stroke-width="2"/><line x1="171.00" y1="86.20" x2="171.00" y2="325.6" stroke="#ff0000" stroke-width="2"/><line x1="196.30" y1="314.50" x2="196.30" y2="325.6" stroke="#ff0000" stroke-width="2"/><line x1="240.00" y1="258.90" x2="240.00" y2="325.6" stroke="#ff0000" stroke-width="2"/><line x1="252.80" y1="277.10" x2="252.80" y2="325.6" stroke="#ff0000" stroke-width="2"/><line x1="261.10" y1="309.00" x2="261.10" y2="325.6" stroke="#ff0000" stroke-width="2"/><line x1="266.60" y1="312.60" x2="266.60" y2="325.6" stroke="#ff0000" stroke-width="2"/><line x1="269.10" y1="312.60" x2="269.10" y2="325.6" stroke="#ff0000" stroke-width="2"/><line x1="276.90" y1="310.80" x2="276.90" y2="325.6" stroke="#ff0000" stroke-width="2"/><line x1="286.60" y1="303.30" x2="286.60" y2="325.6" stroke="#ff0000" stroke-width="2"/><line x1="289.10" y1="276.80" x2="289.10" y2="325.6" stroke="#ff0000" stroke-width="2"/><line x1="316.50" y1="282.60" x2="316.50" y2="325.6" stroke="#ff0000" stroke-width="2"/><line x1="363.50" y1="282.20" x2="363.50" y2="325.6" stroke="#ff0000" stroke-width="2"/><line x1="388.20" y1="245.00" x2="388.20" y2="325.6" stroke="#ff0000" stroke-width="2"/><line x1="403.00" y1="277.20" x2="403.00" y2="325.6" stroke="#ff0000" stroke-width="2"/><line x1="409.80" y1="317.20" x2="409.80" y2="325.6" stroke="#ff0000" stroke-width="2"/><line x1="438.60" y1="317.20" x2="438.60" y2="325.6" stroke="#ff0000" stroke-width="2"/><line x1="466.20" y1="272.00" x2="466.20" y2="325.6" stroke="#ff0000" stroke-width="2"/><line x1="479.10" y1="245.00" x2="479.10" y2="325.6" stroke="#ff0000" stroke-width="2"/><line x1="485.60" y1="311.40" x2="485.60" y2="325.6" stroke="#ff0000" stroke-width="2"/><line x1="504.20" y1="290.00" x2="504.20" y2="325.6" stroke="#ff0000" stroke-width="2"/><line x1="510.00" y1="319.90" x2="510.00" y2="325.6" stroke="#ff0000" stroke-width="2"/><defs><clipPath id="pa"><rect x="32" y="7" width="505" height="318.6"/></clipPath></defs><g clip-path="url(#pa)"><path d="M95.70,56.30H109.10L102.40,67.30Z" fill="none" stroke="#000" stroke-width="1.25" stroke-linejoin="round"/><path d="M94.30,59.60H110.50" stroke="#222" stroke-width="1.0"/><path d="M102.40,52.20V59.60" stroke="#000" stroke-width="1.1"/><path d="M99.80,109.50H113.20L106.50,120.50Z" fill="none" stroke="#000" stroke-width="1.25" stroke-linejoin="round"/><path d="M98.40,112.80H114.60" stroke="#222" stroke-width="1.0"/><path d="M106.50,105.40V112.80" stroke="#000" stroke-width="1.1"/><path d="M164.30,82.90H177.70L171.00,93.90Z" fill="none" stroke="#000" stroke-width="1.25" stroke-linejoin="round"/><path d="M162.90,86.20H179.10" stroke="#222" stroke-width="1.0"/><path d="M171.00,78.80V86.20" stroke="#000" stroke-width="1.1"/><path d="M189.60,311.20H203.00L196.30,322.20Z" fill="none" stroke="#000" stroke-width="1.25" stroke-linejoin="round"/><path d="M188.20,314.50H204.40" stroke="#222" stroke-width="1.0"/><path d="M196.30,307.10V314.50" stroke="#000" stroke-width="1.1"/><path d="M233.30,255.60H246.70L240.00,266.60Z" fill="none" stroke="#000" stroke-width="1.25" stroke-linejoin="round"/><path d="M231.90,258.90H248.10" stroke="#222" stroke-width="1.0"/><path d="M240.00,251.50V258.90" stroke="#000" stroke-width="1.1"/><path d="M246.10,273.80H259.50L252.80,284.80Z" fill="none" stroke="#000" stroke-width="1.25" stroke-linejoin="round"/><path d="M244.70,277.10H260.90" stroke="#222" stroke-width="1.0"/><path d="M252.80,269.70V277.10" stroke="#000" stroke-width="1.1"/><path d="M254.40,305.70H267.80L261.10,316.70Z" fill="none" stroke="#000" stroke-width="1.25" stroke-linejoin="round"/><path d="M253.00,309.00H269.20" stroke="#222" stroke-width="1.0"/><path d="M261.10,301.60V309.00" stroke="#000" stroke-width="1.1"/><path d="M259.90,309.30H273.30L266.60,320.30Z" fill="none" stroke="#000" stroke-width="1.25" stroke-linejoin="round"/><path d="M258.50,312.60H274.70" stroke="#222" stroke-width="1.0"/><path d="M266.60,305.20V312.60" stroke="#000" stroke-width="1.1"/><path d="M262.40,309.30H275.80L269.10,320.30Z" fill="none" stroke="#000" stroke-width="1.25" stroke-linejoin="round"/><path d="M261.00,312.60H277.20" stroke="#222" stroke-width="1.0"/><path d="M269.10,305.20V312.60" stroke="#000" stroke-width="1.1"/><path d="M270.20,307.50H283.60L276.90,318.50Z" fill="none" stroke="#000" stroke-width="1.25" stroke-linejoin="round"/><path d="M268.80,310.80H285.00" stroke="#222" stroke-width="1.0"/><path d="M276.90,303.40V310.80" stroke="#000" stroke-width="1.1"/><path d="M279.90,300.00H293.30L286.60,311.00Z" fill="none" stroke="#000" stroke-width="1.25" stroke-linejoin="round"/><path d="M278.50,303.30H294.70" stroke="#222" stroke-width="1.0"/><path d="M286.60,295.90V303.30" stroke="#000" stroke-width="1.1"/><path d="M282.40,273.50H295.80L289.10,284.50Z" fill="none" stroke="#000" stroke-width="1.25" stroke-linejoin="round"/><path d="M281.00,276.80H297.20" stroke="#222" stroke-width="1.0"/><path d="M289.10,269.40V276.80" stroke="#000" stroke-width="1.1"/><path d="M309.80,279.30H323.20L316.50,290.30Z" fill="none" stroke="#000" stroke-width="1.25" stroke-linejoin="round"/><path d="M308.40,282.60H324.60" stroke="#222" stroke-width="1.0"/><path d="M316.50,275.20V282.60" stroke="#000" stroke-width="1.1"/><path d="M356.80,278.90H370.20L363.50,289.90Z" fill="none" stroke="#000" stroke-width="1.25" stroke-linejoin="round"/><path d="M355.40,282.20H371.60" stroke="#222" stroke-width="1.0"/><path d="M363.50,274.80V282.20" stroke="#000" stroke-width="1.1"/><path d="M381.50,241.70H394.90L388.20,252.70Z" fill="none" stroke="#000" stroke-width="1.25" stroke-linejoin="round"/><path d="M380.10,245.00H396.30" stroke="#222" stroke-width="1.0"/><path d="M388.20,237.60V245.00" stroke="#000" stroke-width="1.1"/><path d="M396.30,273.90H409.70L403.00,284.90Z" fill="none" stroke="#000" stroke-width="1.25" stroke-linejoin="round"/><path d="M394.90,277.20H411.10" stroke="#222" stroke-width="1.0"/><path d="M403.00,269.80V277.20" stroke="#000" stroke-width="1.1"/><path d="M403.10,313.90H416.50L409.80,324.90Z" fill="none" stroke="#000" stroke-width="1.25" stroke-linejoin="round"/><path d="M401.70,317.20H417.90" stroke="#222" stroke-width="1.0"/><path d="M409.80,309.80V317.20" stroke="#000" stroke-width="1.1"/><path d="M431.90,313.90H445.30L438.60,324.90Z" fill="none" stroke="#000" stroke-width="1.25" stroke-linejoin="round"/><path d="M430.50,317.20H446.70" stroke="#222" stroke-width="1.0"/><path d="M438.60,309.80V317.20" stroke="#000" stroke-width="1.1"/><path d="M459.50,268.70H472.90L466.20,279.70Z" fill="none" stroke="#000" stroke-width="1.25" stroke-linejoin="round"/><path d="M458.10,272.00H474.30" stroke="#222" stroke-width="1.0"/><path d="M466.20,264.60V272.00" stroke="#000" stroke-width="1.1"/><path d="M472.40,241.70H485.80L479.10,252.70Z" fill="none" stroke="#000" stroke-width="1.25" stroke-linejoin="round"/><path d="M471.00,245.00H487.20" stroke="#222" stroke-width="1.0"/><path d="M479.10,237.60V245.00" stroke="#000" stroke-width="1.1"/><path d="M478.90,308.10H492.30L485.60,319.10Z" fill="none" stroke="#000" stroke-width="1.25" stroke-linejoin="round"/><path d="M477.50,311.40H493.70" stroke="#222" stroke-width="1.0"/><path d="M485.60,304.00V311.40" stroke="#000" stroke-width="1.1"/><path d="M497.50,286.70H510.90L504.20,297.70Z" fill="none" stroke="#000" stroke-width="1.25" stroke-linejoin="round"/><path d="M496.10,290.00H512.30" stroke="#222" stroke-width="1.0"/><path d="M504.20,282.60V290.00" stroke="#000" stroke-width="1.1"/><path d="M503.30,316.60H516.70L510.00,327.60Z" fill="none" stroke="#000" stroke-width="1.25" stroke-linejoin="round"/><path d="M501.90,319.90H518.10" stroke="#222" stroke-width="1.0"/><path d="M510.00,312.50V319.90" stroke="#000" stroke-width="1.1"/></g><line x1="25.3" y1="7.0" x2="32.2" y2="7.0" stroke="#000" stroke-width="1.8"/><line x1="25.3" y1="60.07" x2="32.2" y2="60.07" stroke="#000" stroke-width="1.8"/><line x1="25.3" y1="113.14" x2="32.2" y2="113.14" stroke="#000" stroke-width="1.8"/><line x1="25.3" y1="166.21" x2="32.2" y2="166.21" stroke="#000" stroke-width="1.8"/><line x1="25.3" y1="219.28" x2="32.2" y2="219.28" stroke="#000" stroke-width="1.8"/><line x1="25.3" y1="272.35" x2="32.2" y2="272.35" stroke="#000" stroke-width="1.8"/><line x1="25.3" y1="325.42" x2="32.2" y2="325.42" stroke="#000" stroke-width="1.8"/><line x1="28.6" y1="33.53" x2="32.2" y2="33.53" stroke="#000" stroke-width="1.8"/><line x1="28.6" y1="86.6" x2="32.2" y2="86.6" stroke="#000" stroke-width="1.8"/><line x1="28.6" y1="139.67000000000002" x2="32.2" y2="139.67000000000002" stroke="#000" stroke-width="1.8"/><line x1="28.6" y1="192.74" x2="32.2" y2="192.74" stroke="#000" stroke-width="1.8"/><line x1="28.6" y1="245.81" x2="32.2" y2="245.81" stroke="#000" stroke-width="1.8"/><line x1="28.6" y1="298.88" x2="32.2" y2="298.88" stroke="#000" stroke-width="1.8"/><line x1="32.2" y1="325.4" x2="32.2" y2="332.6" stroke="#000" stroke-width="1.8"/><text x="32.2" y="349.2" font-size="15" text-anchor="middle">20</text><line x1="158.4" y1="325.4" x2="158.4" y2="332.6" stroke="#000" stroke-width="1.8"/><text x="158.4" y="349.2" font-size="15" text-anchor="middle">30</text><line x1="284.6" y1="325.4" x2="284.6" y2="332.6" stroke="#000" stroke-width="1.8"/><text x="284.6" y="349.2" font-size="15" text-anchor="middle">40</text><line x1="410.8" y1="325.4" x2="410.8" y2="332.6" stroke="#000" stroke-width="1.8"/><text x="410.8" y="349.2" font-size="15" text-anchor="middle">50</text><line x1="537.0" y1="325.4" x2="537.0" y2="332.6" stroke="#000" stroke-width="1.8"/><text x="537.0" y="349.2" font-size="15" text-anchor="middle">60</text><line x1="95.30000000000001" y1="325.4" x2="95.30000000000001" y2="329.0" stroke="#000" stroke-width="1.8"/><line x1="221.5" y1="325.4" x2="221.5" y2="329.0" stroke="#000" stroke-width="1.8"/><line x1="347.70000000000005" y1="325.4" x2="347.70000000000005" y2="329.0" stroke="#000" stroke-width="1.8"/><line x1="473.90000000000003" y1="325.4" x2="473.90000000000003" y2="329.0" stroke="#000" stroke-width="1.8"/><text x="234.3" y="373.4" font-size="19.1">2 <tspan font-family="Liberation Serif, serif">θ</tspan> (degrees)</text><text transform="translate(17.0,212.2) rotate(-90) scale(0.945,1)" x="0" y="0" font-size="18.5">Intensity (arb. units)</text><text transform="translate(108.50,35.50) rotate(-90)" x="0" y="0" font-size="14.5" text-anchor="middle">(120)</text><text transform="translate(121.60,74.70) rotate(-90)" x="0" y="0" font-size="14.5" text-anchor="middle">(111)</text><text transform="translate(174.70,56.05) rotate(-90)" x="0" y="0" font-size="14.5" text-anchor="middle">(121)</text><text transform="translate(277.60,37.65) rotate(-90)" x="0" y="0" font-size="14.5" text-anchor="middle">(040)</text><text transform="translate(264.40,158.75) rotate(-90)" x="0" y="0" font-size="14.5" text-anchor="middle">(131)</text><text transform="translate(255.30,198.65) rotate(-90)" x="0" y="0" font-size="14.5" text-anchor="middle">(201)</text><text transform="translate(245.00,230.65) rotate(-90)" x="0" y="0" font-size="14.5" text-anchor="middle">(012)</text><text transform="translate(294.50,249.50) rotate(-90)" x="0" y="0" font-size="14.5" text-anchor="middle">(022)</text><text transform="translate(322.80,253.50) rotate(-90)" x="0" y="0" font-size="14.5" text-anchor="middle">(221)</text><text transform="translate(369.60,244.00) rotate(-90)" x="0" y="0" font-size="14.5" text-anchor="middle">(032)</text><text transform="translate(393.50,208.70) rotate(-90)" x="0" y="0" font-size="14.5" text-anchor="middle">(231)</text><text transform="translate(409.40,244.40) rotate(-90)" x="0" y="0" font-size="14.5" text-anchor="middle">(132)</text><text transform="translate(468.00,216.70) rotate(-90)" x="0" y="0" font-size="14.5" text-anchor="middle">(320)</text><text transform="translate(482.30,209.80) rotate(-90)" x="0" y="0" font-size="14.5" text-anchor="middle">(241)</text><text transform="translate(495.30,113.50) rotate(-90)" x="0" y="0" font-size="14.5" text-anchor="middle">(151)</text><text transform="translate(511.40,245.00) rotate(-90)" x="0" y="0" font-size="14.5" text-anchor="middle">(113)</text><line x1="353.6" y1="23.2" x2="388" y2="23.2" stroke="#000" stroke-width="2"/><text x="392.5" y="28.9" font-size="14.35">TiO<tspan font-size="10.3" dy="4.6" dx="-0.5">2</tspan><tspan dy="-4.6">-NRs (Brookite)</tspan></text><path d="M363.70,41.50H377.10L370.40,52.50Z" fill="none" stroke="#000" stroke-width="1.25" stroke-linejoin="round"/><path d="M362.30,44.80H378.50" stroke="#222" stroke-width="1.0"/><path d="M370.40,37.40V52.50" stroke="#000" stroke-width="1.1"/><text x="391.3" y="49.7" font-size="14.4">JCPDS No. 29-1360</text></svg>
</body></html>
